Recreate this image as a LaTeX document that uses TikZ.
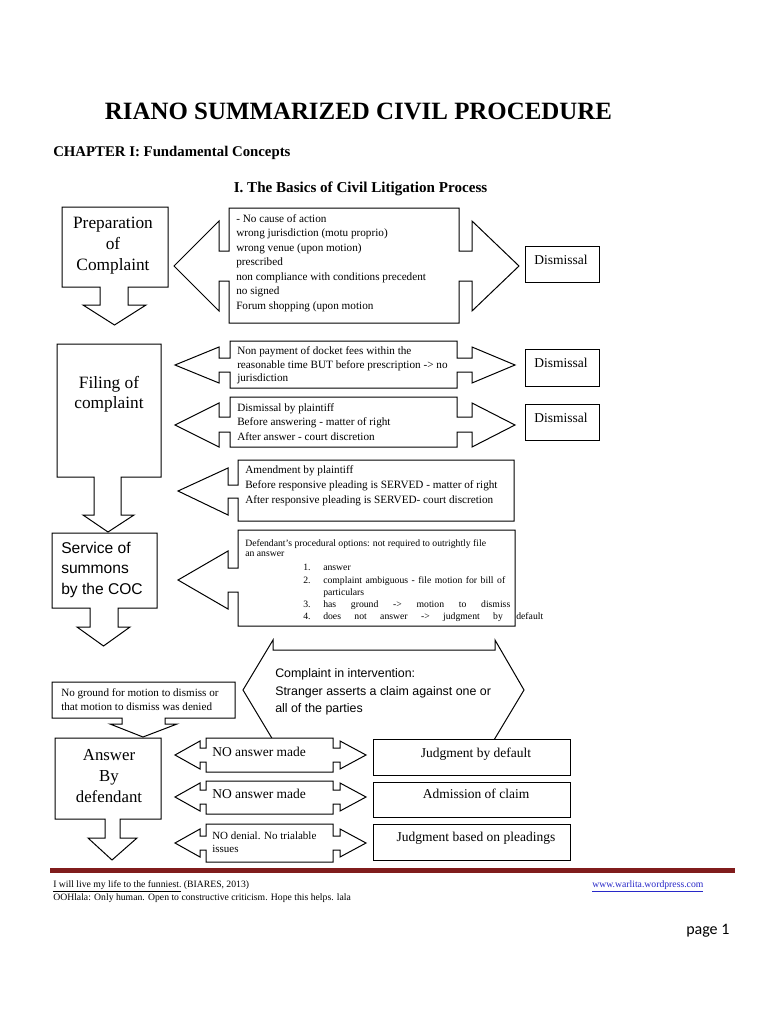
\documentclass[tikz,border=0pt]{standalone}
\usepackage{fontspec}
\setmainfont{Liberation Serif}
\setsansfont{Liberation Sans}
\newfontfamily\calib{Carlito}
\newdimen\px \px=0.75pt
\newcommand\fsz[1]{\fontsize{#1\px}{#1\px}\selectfont}
\definecolor{footred}{RGB}{128,28,28}
\definecolor{linkblue}{RGB}{40,40,200}
\begin{document}
\begin{tikzpicture}[x=0.75pt,y=-0.75pt,
  shp/.style={draw=black,line width=0.75pt,fill=white,line join=miter},
  lft/.style={inner sep=0pt,anchor=base west},
  ctr/.style={inner sep=0pt,anchor=base},
  bigserif/.style={font=\fsz{17.3}},
  callt/.style={font=\fsz{11.2}},
  smallt/.style={font=\fsz{9.7}},
  rest/.style={font=\fsz{13.5}}]
\useasboundingbox (0,0) rectangle (768,1024);
\fill[white] (0,0) rectangle (768,1024);

% headings
\node[ctr,font=\bfseries\fsz{24.9}] (title) at (358.5,119) {RIANO SUMMARIZED CIVIL PROCEDURE};
\node[lft,font=\bfseries\fsz{14.8}] (chap) at (53,156.5) {CHAPTER I: Fundamental Concepts};
\node[ctr,font=\bfseries\fsz{15.1}] (sub) at (360.5,192.5) {I. The Basics of Civil Litigation Process};

% Preparation of complaint
\draw[shp] (62,207) -- (168,207) -- (168,287) -- (128,287) -- (128,305) -- (146,305) -- (114.5,325) -- (83,305) -- (100,305) -- (100,287) -- (62,287) -- cycle;
\node[ctr,bigserif] (p1) at (113,228) {Preparation};
\node[ctr,bigserif] (p2) at (113,249) {of};
\node[ctr,bigserif] (p3) at (113,270) {Complaint};

% callout 1
\draw[shp] (229,208) -- (459,208) -- (459,251) -- (472,251) -- (472,221) -- (519,266) -- (472,311) -- (472,281) -- (459,281) -- (459,323) -- (229,323) -- (229,281) -- (219,281) -- (219,311) -- (174,266) -- (219,221) -- (219,251) -- (229,251) -- cycle;
\node[lft,callt] (c1a) at (236,222) {- No cause of action};
\node[lft,callt] (c1b) at (236,236.5) {wrong jurisdiction (motu proprio)};
\node[lft,callt] (c1c) at (236,251) {wrong venue (upon motion)};
\node[lft,callt] (c1d) at (236,265.5) {prescribed};
\node[lft,callt] (c1e) at (236,280) {non compliance with conditions precedent};
\node[lft,callt] (c1f) at (236,294.5) {no signed};
\node[lft,callt] (c1g) at (236,309) {Forum shopping (upon motion};

% dismissal boxes
\draw[shp] (525,246) rectangle (599,282);
\node[ctr,rest] (d1) at (561,264) {Dismissal};
\draw[shp] (525,349) rectangle (599,386);
\node[ctr,rest] (d2) at (561,367) {Dismissal};
\draw[shp] (525,404) rectangle (599,440);
\node[ctr,rest] (d3) at (561,422) {Dismissal};

% Filing of complaint
\draw[shp] (57,344) -- (161,344) -- (161,477) -- (121,477) -- (121,515) -- (134,515) -- (108,532) -- (83,515) -- (94,515) -- (94,477) -- (57,477) -- cycle;
\node[ctr,bigserif] (f1) at (109,388) {Filing of};
\node[ctr,bigserif] (f2) at (109,408) {complaint};

% callout 2
\draw[shp] (230,341) -- (457,341) -- (457,358) -- (472,358) -- (472,347) -- (515,365) -- (472,383) -- (472,372) -- (457,372) -- (457,388) -- (230,388) -- (230,372) -- (219,372) -- (219,383) -- (175,365) -- (219,347) -- (219,358) -- (230,358) -- cycle;
\node[lft,callt] (c2a) at (237,354.5) {Non payment of docket fees within the};
\node[lft,callt] (c2b) at (237,368) {reasonable time BUT before prescription -> no};
\node[lft,callt] (c2c) at (237,381.5) {jurisdiction};

% callout 3
\draw[shp] (230,397) -- (457,397) -- (457,417) -- (472,417) -- (472,403) -- (515,425) -- (472,447) -- (472,432) -- (457,432) -- (457,447) -- (230,447) -- (230,432) -- (219,432) -- (219,447) -- (175,425) -- (219,403) -- (219,417) -- (230,417) -- cycle;
\node[lft,callt] (c3a) at (237,411.5) {Dismissal by plaintiff};
\node[lft,callt] (c3b) at (237,425.5) {Before answering - matter of right};
\node[lft,callt] (c3c) at (237,440) {After answer - court discretion};

% callout 4
\draw[shp] (238,460) -- (514,460) -- (514,521) -- (238,521) -- (238,498) -- (228,498) -- (228,515) -- (178,491) -- (228,468) -- (228,485) -- (238,485) -- cycle;
\node[lft,callt] (c4a) at (245,473.5) {Amendment by plaintiff};
\node[lft,callt] (c4b) at (245,488.5) {Before responsive pleading is SERVED - matter of right};
\node[lft,callt] (c4c) at (245,503.5) {After responsive pleading is SERVED- court discretion};

% Service of summons
\draw[shp] (52,533) -- (157,533) -- (157,608) -- (118,608) -- (118,627) -- (130,627) -- (103.5,646) -- (77,627) -- (90,627) -- (90,608) -- (52,608) -- cycle;
\node[lft,font=\sffamily\fsz{15.6}] (s1) at (61,553) {Service of};
\node[lft,font=\sffamily\fsz{15.6}] (s2) at (61,573.5) {summons};
\node[lft,font=\sffamily\fsz{15.6}] (s3) at (61,594) {by the COC};

% callout 5
\draw[shp] (238,530) -- (515,530) -- (515,626) -- (238,626) -- (238,592) -- (228,592) -- (228,609) -- (178,580) -- (228,551) -- (228,568) -- (238,568) -- cycle;
\node[lft,smallt] (c5a) at (245,546) {Defendant's procedural options: not required to outrightly file};
\node[lft,smallt] (c5b) at (245,556) {an answer};
\node[lft,smallt] (n1) at (303,570) {1.};
\node[lft,smallt] (i1) at (323,570) {answer};
\node[lft,smallt] (n2) at (303,583) {2.};
\node[lft,smallt] (i2) at (323,583) {\makebox[182\px][s]{complaint ambiguous - file motion for bill of}};
\node[lft,smallt] (i2b) at (323,595) {particulars};
\node[lft,smallt] (n3) at (303,607) {3.};
\node[lft,smallt] (i3) at (323,607) {\makebox[187\px][s]{has ground -> motion to dismiss}};
\node[lft,smallt] (n4) at (303,619) {4.};
\node[lft,smallt] (i4) at (323,619) {\makebox[220\px][s]{does not answer -> judgment by default}};

% complaint in intervention
\draw[line width=0.75pt,line join=miter] (273,740) -- (243,690) -- (273,640) -- (273,650) -- (495,650) -- (495,640) -- (524,690) -- (494,740);
\node[lft,font=\sffamily\fsz{12.4}] (ci1) at (275,677) {Complaint in intervention:};
\node[lft,font=\sffamily\fsz{12.4}] (ci2) at (275,695) {Stranger asserts a claim against one or};
\node[lft,font=\sffamily\fsz{12.4}] (ci3) at (275,712.5) {all of the parties};

% no ground
\draw[shp] (52,682) -- (235,682) -- (235,718) -- (165,718) -- (165,724) -- (177,724) -- (143,737) -- (110,724) -- (122,724) -- (122,718) -- (52,718) -- cycle;
\node[lft,font=\fsz{11.1}] (ng1) at (61,696.5) {No ground for motion to dismiss or};
\node[lft,font=\fsz{11.1}] (ng2) at (61,710.5) {that motion to dismiss was denied};

% Answer by defendant
\draw[shp] (55,738) -- (161,738) -- (161,819) -- (120,819) -- (120,838) -- (137,838) -- (112,860) -- (88,838) -- (105,838) -- (105,819) -- (55,819) -- cycle;
\node[ctr,font=\fsz{16.8}] (a1) at (109,760) {Answer};
\node[ctr,font=\fsz{16.8}] (a2) at (109,781) {By};
\node[ctr,font=\fsz{16.8}] (a3) at (109,802) {defendant};

% rows
\draw[shp] (206,738) -- (333,738) -- (333,748) -- (340,748) -- (340,741) -- (366,755) -- (340,769) -- (340,762) -- (333,762) -- (333,772) -- (206,772) -- (206,762) -- (200,762) -- (200,769) -- (175,755) -- (200,741) -- (200,748) -- (206,748) -- cycle;
\node[lft,rest] (r1) at (212,756) {NO answer made};
\draw[shp] (206,781) -- (333,781) -- (333,790) -- (340,790) -- (340,783) -- (366,797) -- (340,811) -- (340,804) -- (333,804) -- (333,814) -- (206,814) -- (206,804) -- (200,804) -- (200,811) -- (175,797) -- (200,783) -- (200,790) -- (206,790) -- cycle;
\node[lft,rest] (r2) at (212,798) {NO answer made};
\draw[shp] (206,824) -- (333,824) -- (333,836) -- (340,836) -- (340,829) -- (366,843) -- (340,857) -- (340,850) -- (333,850) -- (333,862) -- (206,862) -- (206,850) -- (200,850) -- (200,857) -- (175,843) -- (200,829) -- (200,836) -- (206,836) -- cycle;
\node[lft,font=\fsz{11}] (r3a) at (212,839.5) {NO denial. No trialable};
\node[lft,font=\fsz{11}] (r3b) at (212,852.5) {issues};

\draw[shp] (373,739) rectangle (570,775);
\node[ctr,rest] (j1) at (476,757.5) {Judgment by default};
\draw[shp] (373,782) rectangle (570,817);
\node[ctr,rest] (j2) at (476,798.5) {Admission of claim};
\draw[shp] (373,824) rectangle (570,860);
\node[ctr,rest] (j3) at (476,841.5) {Judgment based on pleadings};

% footer
\fill[footred] (50,868) rectangle (735,872.5);
\node[lft,font=\fsz{9.7}] (ft1) at (53,887) {\underline{I will live my life to the funniest.} (BIARES, 2013)};
\node[lft,font=\fsz{9.7}] (ft2) at (53,900) {OOHlala: Only human. Open to constructive criticism. Hope this helps. lala};
\node[lft,font=\fsz{9.7},text=linkblue] (url) at (592,887) {\underline{www.warlita.wordpress.com}};
\node[lft,font=\calib\fsz{16}] (pg) at (686,934) {page 1};
\end{tikzpicture}
\end{document}
